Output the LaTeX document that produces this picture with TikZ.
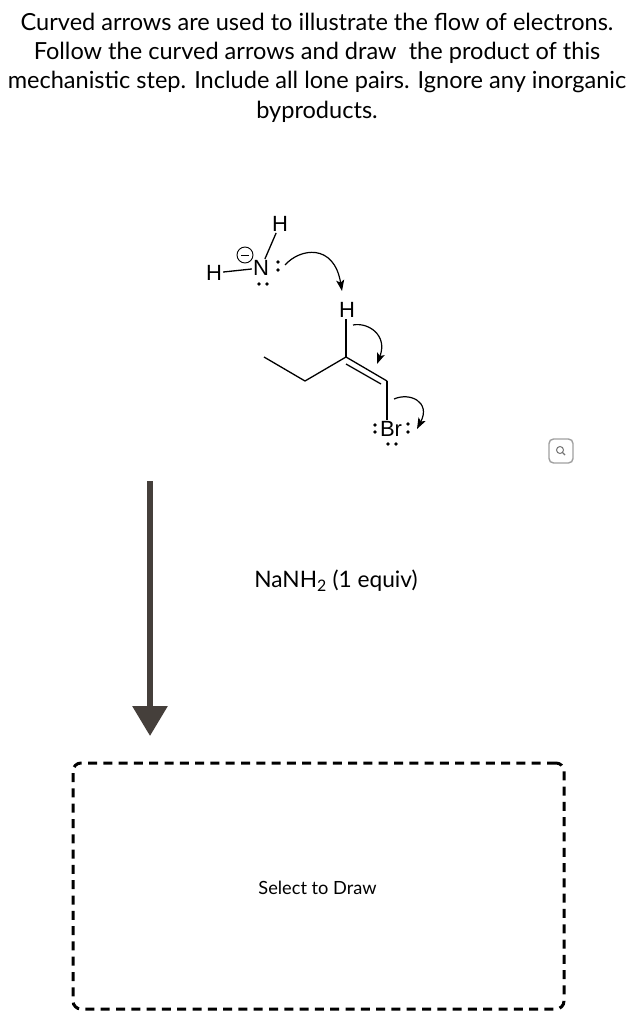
\documentclass[tikz,border=0pt]{standalone}
\usepackage{fontspec}
\setmainfont{Lato}
\newfontfamily\chemfont{Liberation Sans}
\usetikzlibrary{arrows.meta}
\definecolor{arrowdark}{HTML}{453F3B}
\begin{document}
\begin{tikzpicture}[x=1pt, y=-1pt, line cap=butt,
		atom/.style={font=\chemfont\fontsize{22}{22}\selectfont, inner sep=1pt, text height=15.5pt, text depth=0pt},
		bond/.style={line width=1.3pt, black},
		flow/.style={line width=1.2pt, -{Stealth[length=11pt, width=8pt, inset=2.5pt]}},
		lp/.style={circle, fill=black, inner sep=0pt, minimum size=3.6pt},
		prompt/.style={font=\fontsize{23.55}{29.3}\selectfont, align=center},
		plain/.style={font=\fontsize{22.7}{28}\selectfont},
		zoombtn/.style={draw=gray!75, line width=1.4pt, rounded corners=4.5pt, minimum size=24pt, inner sep=0pt}]
		\useasboundingbox (0,0) rectangle (635,1024);
		\node[prompt] (Q) at (317,67.5) {Curved arrows are used to illustrate the flow of electrons.\\Follow the curved arrows and draw\ \ the product of this\\mechanistic step. Include all lone pairs. Ignore any inorganic\\byproducts.};
		% amide
		\node[atom] (N) at (261,268) {N}; \node[atom] (H1) at (280,224) {H}; \node[atom] (H2) at (214,273) {H};
		\draw[bond] (N) -- (H1); \draw[bond] (N) -- (H2);
		\node[circle, draw, line width=.9pt, minimum size=16pt, inner sep=0pt] (M) at (245,255) {};
		\coordinate (Ml) at (241,255); \coordinate (Mr) at (249,255);
		\draw[line width=.9pt] (Ml) -- (Mr);
		% substrate
		\node[atom] (H3) at (347,310) {H}; \node[atom] (Br) at (391,429) {Br};
		\coordinate (C1) at (264,357); \coordinate (C2) at (305,381); \coordinate (C3) at (346,357); \coordinate (C4) at (387,381);
		\coordinate (C3i) at (346,364); \coordinate (C4i) at (381,384);
		\draw[bond, line join=round] (C1) -- (C2) -- (C3) -- (C4);
		\draw[bond] (C3i) -- (C4i);
		\draw[bond] (C3) -- (C3 |- H3.south);
		\draw[bond] (C4) -- (C4 |- Br.north);
		% lone pairs
		\foreach \x/\y [count=\i] in {278/262, 278/270, 259/284, 267/284, 375/425, 375/432, 408/424, 408/432, 388/444, 396/444}
			\node[lp] (lp\i) at (\x,\y) {};
		% electron flow
		\coordinate (A0) at (285,265); \coordinate (A1) at (342,291);
		\coordinate (B0) at (353,325); \coordinate (B1) at (377,364);
		\coordinate (D0) at (394,399); \coordinate (D1) at (417,429);
		\draw[flow] (A0) .. controls (300,248) and (334,243) .. (A1);
		\draw[flow] (B0) .. controls (368,322) and (388,335) .. (B1);
		\draw[flow] (D0) .. controls (410,392) and (431,402) .. (D1);
		% zoom button
		\node[zoombtn] (Zb) at (561,451) {};
		\node[circle, draw=gray!90!black, line width=1pt, minimum size=7pt, inner sep=0pt] (Zl) at (560,450) {};
		\coordinate (Zh) at (565,455);
		\draw[gray!90!black, line width=1.2pt] (Zl) -- (Zh);
		% reaction arrow and box
		\node[plain] (R) at (336,581) {NaNH\textsubscript{2} (1 equiv)};
		\coordinate (S) at (150,481); \coordinate (E) at (150,736);
		\draw[arrowdark, line width=6pt, -{Triangle[length=30pt, width=34pt]}] (S) -- (E);
		\node[draw, line width=3pt, dash pattern=on 9pt off 6.3pt, rounded corners=8pt, minimum width=491pt, minimum height=246pt, inner sep=0pt] (Box) at (318.5,886) {};
		\node[font=\fontsize{18.2}{22}\selectfont] (Sel) at (317.5,888) {Select to Draw};
	\end{tikzpicture}
\end{document}
